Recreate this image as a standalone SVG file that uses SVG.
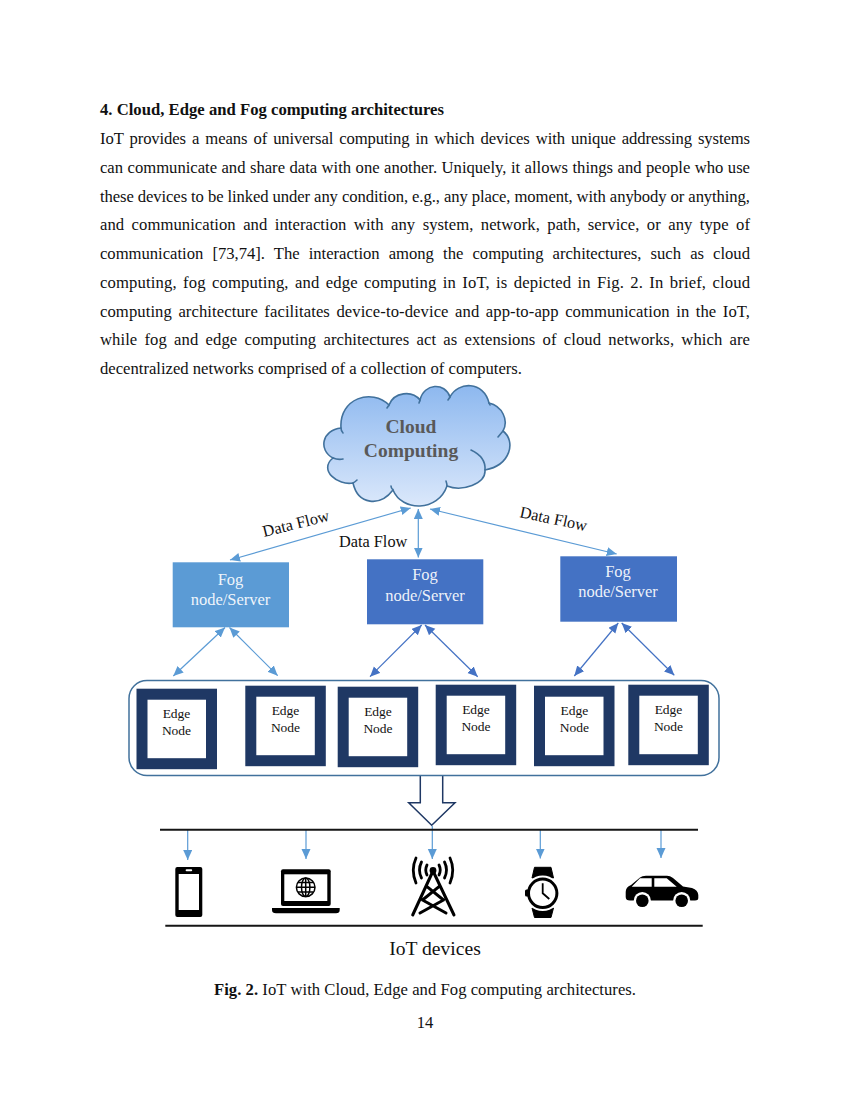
<svg xmlns="http://www.w3.org/2000/svg" width="850" height="1100" viewBox="0 0 850 1100">
<style>
text{font-family:"Liberation Serif","Times New Roman",serif;fill:#111}
.b{font-size:16.65px}
.bold{font-weight:700}
.fog{fill:#fff;font-size:16.5px;text-anchor:middle;fill-opacity:.92}
.edge{font-size:13.5px;text-anchor:middle}
.ef{fill:#fff;stroke:#1f3864;stroke-width:11}
.lb{fill:none;stroke:#5b9bd5;stroke-width:1.2;marker-start:url(#mb);marker-end:url(#mb)}
.db{fill:none;stroke:#4472c4;stroke-width:1.2;marker-start:url(#md);marker-end:url(#md)}
.dn{fill:none;stroke:#5b9bd5;stroke-width:1.2;marker-end:url(#mb)}
.cl{fill:none;stroke:#41719c;stroke-width:1.6;stroke-linecap:round}
.bk{stroke:#151515;stroke-width:2;fill:none}
</style>
<defs>
<linearGradient id="cg" x1="0" y1="0" x2="0" y2="1"><stop offset="0" stop-color="#8db8ef"/><stop offset="1" stop-color="#dbe8fb"/></linearGradient>
<marker id="mb" markerUnits="userSpaceOnUse" markerWidth="11" markerHeight="10" refX="10" refY="4.5" orient="auto-start-reverse"><path d="M0 0L10 4.5L0 9z" fill="#5b9bd5"/></marker>
<marker id="md" markerUnits="userSpaceOnUse" markerWidth="11" markerHeight="10" refX="10" refY="4.5" orient="auto-start-reverse"><path d="M0 0L10 4.5L0 9z" fill="#4472c4"/></marker>
</defs>
<rect width="850" height="1100" fill="#fff"/>
<g id="page-text">
<text class="b bold" x="100" y="115" textLength="344">4. Cloud, Edge and Fog computing architectures</text>
<text class="b" x="100" y="144" textLength="650" word-spacing="2">IoT provides a means of universal computing in which devices with unique addressing systems</text>
<text class="b" x="100" y="173" textLength="650" word-spacing="0.3">can communicate and share data with one another. Uniquely, it allows things and people who use</text>
<text class="b" x="100" y="202" textLength="650">these devices to be linked under any condition, e.g., any place, moment, with anybody or anything,</text>
<text class="b" x="100" y="230" textLength="650" word-spacing="3.2">and communication and interaction with any system, network, path, service, or any type of</text>
<text class="b" x="100" y="259" textLength="650" word-spacing="5">communication [73,74]. The interaction among the computing architectures, such as cloud</text>
<text class="b" x="100" y="288" textLength="650" word-spacing="2">computing, fog computing, and edge computing in IoT, is depicted in Fig. 2. In brief, cloud</text>
<text class="b" x="100" y="317" textLength="650" word-spacing="2.2">computing architecture facilitates device-to-device and app-to-app communication in the IoT,</text>
<text class="b" x="100" y="345" textLength="650" word-spacing="3">while fog and edge computing architectures act as extensions of cloud networks, which are</text>
<text class="b" x="100" y="374" textLength="422">decentralized networks comprised of a collection of computers.</text>
</g>
<g id="cloud">
<path d="M341 428C339 398 372 388 389 405C394 392 412 390 420 400C424 383 445 382 450 397C458 381 484 381 489 403C502 406 509 420 503 431C516 441 511 465 485 470C486 484 462 492 447 486C438 512 402 512 393 490C380 507 358 505 353 483C338 486 318 470 333 458C318 450 322 430 341 428Z" fill="url(#cg)" stroke="#41719c" stroke-width="1.6"/>
<path class="cl" d="M333 458Q338 460 343 459M341 428Q341 431 343 433M389 405L387 408M420 400L419 403M450 397L448 400M489 403L490 405M503 431L498 437M471 450Q486 457 485 470M447 486Q447 484 446 481M393 490Q391 488 391 486M353 483Q355 482 357 480"/>
<text x="411" y="433" text-anchor="middle" font-weight="700" font-size="19.5" style="fill:#595959">Cloud</text>
<text x="411" y="457" text-anchor="middle" font-weight="700" font-size="19.5" style="fill:#595959">Computing</text>
</g>
<g id="connectors">
<path class="lb" d="M410.7 508L230 560"/>
<path class="lb" d="M418.3 509L418.3 557.5"/>
<path class="lb" d="M430 509L616.7 554"/>
<path class="lb" d="M225 627.5L173.3 676"/>
<path class="lb" d="M229.5 627.5L277.7 675.7"/>
<path class="db" d="M421.7 625L370 676.7"/>
<path class="db" d="M425 625L477.7 676.7"/>
<path class="db" d="M618.3 623L574.3 676"/>
<path class="db" d="M621.7 623L674.3 675.3"/>
<path class="dn" d="M187.7 830V860"/>
<path class="dn" d="M306 830V859"/>
<path class="dn" d="M432.3 826V859"/>
<path class="dn" d="M540.3 830V858.5"/>
<path class="dn" d="M661 830V858"/>
<path id="big-arrow" d="M420.3 775V802.7H408.7L431.7 825.3L455 802.7H442.7V775" fill="#fff" stroke="#1f3864" stroke-width="1.5"/>
</g>
<g id="flow-labels">
<text x="264" y="537" font-size="16.3" transform="rotate(-14 264 537)">Data Flow</text>
<text x="339" y="547" font-size="16.3">Data Flow</text>
<text x="519" y="517" font-size="16.3" transform="rotate(12 519 517)">Data Flow</text>
</g>
<g id="fog-1"><rect x="172.7" y="562.3" width="116.3" height="65" fill="#5b9bd5"/><text class="fog" x="230.5" y="585">Fog</text><text class="fog" x="230.5" y="605">node/Server</text></g>
<g id="fog-2"><rect x="367" y="559.3" width="116.3" height="65" fill="#4472c4"/><text class="fog" x="425" y="580">Fog</text><text class="fog" x="425" y="601">node/Server</text></g>
<g id="fog-3"><rect x="560.3" y="556.3" width="116.7" height="65.4" fill="#4472c4"/><text class="fog" x="618" y="577">Fog</text><text class="fog" x="618" y="597">node/Server</text></g>
<g id="edge-container"><rect x="129" y="680.5" width="590" height="95" rx="18" fill="none" stroke="#41719c" stroke-width="1.5"/></g>
<g id="edge-1"><rect class="ef" x="142" y="694.2" width="69.5" height="69.5"/><text class="edge" x="176.5" y="718">Edge</text><text class="edge" x="176.5" y="735">Node</text></g>
<g id="edge-2"><rect class="ef" x="250.8" y="691.2" width="69.5" height="69.5"/><text class="edge" x="285.5" y="715">Edge</text><text class="edge" x="285.5" y="732">Node</text></g>
<g id="edge-3"><rect class="ef" x="343.2" y="692.2" width="69.5" height="69.5"/><text class="edge" x="378" y="716">Edge</text><text class="edge" x="378" y="733">Node</text></g>
<g id="edge-4"><rect class="ef" x="441.2" y="690.2" width="69.5" height="69.5"/><text class="edge" x="476" y="714">Edge</text><text class="edge" x="476" y="731">Node</text></g>
<g id="edge-5"><rect class="ef" x="539.5" y="691.2" width="69.5" height="69.5"/><text class="edge" x="574.3" y="715">Edge</text><text class="edge" x="574.3" y="732">Node</text></g>
<g id="edge-6"><rect class="ef" x="633.8" y="690.2" width="69.5" height="69.5"/><text class="edge" x="668.5" y="714">Edge</text><text class="edge" x="668.5" y="731">Node</text></g>
<g id="bus-lines">
<path class="bk" d="M160 829.7H698"/>
<path class="bk" d="M165.3 925.7H702.7"/>
</g>
<g id="phone">
<rect x="175.3" y="867" width="27" height="50" rx="2" fill="#000"/>
<rect x="178.7" y="874" width="20.3" height="36" fill="#fff"/>
<rect x="185.6" y="869.3" width="6.6" height="2" rx="1" fill="#fff"/>
</g>
<g id="laptop">
<rect x="281" y="869.3" width="49.7" height="36.7" rx="2" fill="#000"/>
<rect x="284.3" y="874.3" width="43" height="26.7" fill="#fff"/>
<path d="M272 908H339.7V910Q339.7 913.3 336 913.3H276Q272 913.3 272 910Z" fill="#000"/>
<g fill="none" stroke="#000" stroke-width="1.5"><circle cx="305.7" cy="887.3" r="9.3"/><ellipse cx="305.7" cy="887.3" rx="4.2" ry="9.3"/><path d="M305.7 878V896.6M296.4 887.3H315M298 882.5H313.4M298 892.1H313.4"/></g>
</g>
<g id="tower" fill="none" stroke="#000" stroke-linecap="round">
<circle cx="433" cy="870.5" r="3.4" fill="#000" stroke="none"/>
<path stroke-width="3" stroke-linejoin="round" d="M433 871L412.7 915M433 871L454 915M427 886.7L443.5 900L420 913M439 886.7L422.5 900L446 913"/>
<path stroke-width="2.8" d="M427 865Q424.5 870 427 875M439 865Q441.5 870 439 875M421.5 862Q417.5 870 421.5 878M444.5 862Q448.5 870 444.5 878M416 858Q410.5 870 416 883M450 858Q455.5 870 450 883"/>
</g>
<g id="watch">
<path d="M534.5 867.3H551L553.5 878H532ZM532 908H553.5L551 917.5H534.5Z" fill="#000" stroke="#000" stroke-linejoin="round"/>
<circle cx="542.7" cy="893.3" r="17.8" fill="#fff"/>
<rect x="525" y="889.5" width="4.5" height="7" rx="1.5" fill="#000"/>
<circle cx="542.7" cy="893.3" r="14.2" fill="#fff" stroke="#000" stroke-width="3"/>
<path d="M542.7 883.3V893.3L549.3 899" fill="none" stroke="#000" stroke-width="1.8"/>
</g>
<g id="car">
<path d="M625.7 892Q625.7 887 631 885L640 877.5Q642 875.7 646 875.7H667Q670 875.7 673 878L683 886.5L692 888Q698 890 698.3 895V898Q698.3 900.5 695 900.5H630Q625.7 900.5 625.7 897Z" fill="#000"/>
<path d="M631.7 886.7L640 878.3H651.7V886.7ZM654.3 878.3H666.7L676.7 886.7H654.3Z" fill="#fff"/>
<circle cx="642.3" cy="900.7" r="8.6" fill="#fff"/><circle cx="681.7" cy="900.7" r="8.6" fill="#fff"/>
<circle cx="642.3" cy="900.7" r="6.3" fill="#000"/><circle cx="681.7" cy="900.7" r="6.3" fill="#000"/>
</g>
<g id="captions">
<text x="435" y="955" text-anchor="middle" font-size="19.6">IoT devices</text>
<text x="214" y="995" font-size="16.65" textLength="422"><tspan font-weight="700">Fig. 2.</tspan> IoT with Cloud, Edge and Fog computing architectures.</text>
<text x="425" y="1028" text-anchor="middle" font-size="16.6">14</text>
</g>
</svg>
